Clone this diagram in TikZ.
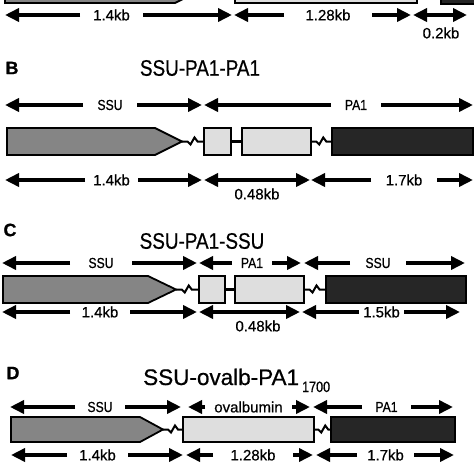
\documentclass[tikz,border=0pt]{standalone}
\usepackage{fontspec}
\usetikzlibrary{arrows.meta}
\newfontfamily\labfont[FakeBold=0.6]{Liberation Sans}
\newfontfamily\condfont[FakeStretch=0.84,FakeBold=0.6]{Liberation Sans}
\newcommand{\kbfont}{\labfont\fontsize{15}{15}\selectfont}
\newcommand{\genefont}{\condfont\fontsize{14.5}{14.5}\selectfont}
\newcommand{\titlefont}{\condfont\fontsize{22.5}{22.5}\selectfont}
\newcommand{\panelfont}{\labfont\bfseries\fontsize{18}{18}\selectfont}
\tikzset{
  dimline/.style={line width=4pt, -{Triangle[length=14pt,width=13pt]}},
  dimboth/.style={line width=4pt, {Triangle[length=14pt,width=13pt]}-{Triangle[length=14pt,width=13pt]}},
  gaplab/.style={inner xsep=0pt, inner ysep=0pt, outer sep=0pt, align=center},
  ssubox/.style={fill=black!48, draw=black, line width=1.8pt, line join=miter},
  litebox/.style={fill=black!13, draw=black, line width=1.8pt},
  darkbox/.style={fill=black!85, draw=black, line width=1.8pt},
  zigline/.style={line width=2pt, line join=miter},
  barline/.style={line width=3.5pt}
}
% name, y, left tip, gap left, gap right, right tip, text
\newcommand{\gaparrow}[7]{%
  \coordinate (#1L) at (#3,#2);
  \coordinate (#1R) at (#6,#2);
  \node[gaplab, minimum width={(#5-#4)*1pt}] (#1) at ({(#4+#5)/2},#2) {#7};
  \draw[dimline] (#1) -- (#1L);
  \draw[dimline] (#1) -- (#1R);
}
% x start, x end, y
\newcommand{\linkzig}[3]{%
  \draw[zigline] (#1,#3) -- ({#1+0.25*(#2-#1)},#3) -- ++(3,3) -- ++(4,-7) -- ++(3,4) -- (#2,#3);
}
% left, flat end, tip, top, bottom
\newcommand{\ssushape}[5]{%
  \filldraw[ssubox] (#1,#4) -- (#2,#4) -- (#3,{(#4+#5)/2}) -- (#2,#5) -- (#1,#5) -- cycle;
}
\begin{document}
\begin{tikzpicture}[x=1pt, y=-1pt]
  \useasboundingbox (0,0) rectangle (474,474);
  \clip (0,0) rectangle (474,474);
  \fill[white] (0,0) rectangle (474,474);

  % panel A (cut at the top)
  \ssushape{5}{175}{202}{-24}{3}
  \linkzig{202}{235}{-10.5}
  \filldraw[litebox] (235,-24) rectangle (417,3);
  \linkzig{417}{441}{-10.5}
  \filldraw[darkbox] (441,-24) rectangle (490,4);
  \gaparrow{a14}{15}{5}{80}{143}{232}{\kbfont 1.4kb}
  \gaparrow{a128}{15}{234}{284}{372}{411}{\kbfont 1.28kb}
  \coordinate (a02L) at (413,15);
  \coordinate (a02R) at (467,15);
  \draw[dimboth] (a02L) -- (a02R);
  \node[gaplab] (a02) at (441,33) {\kbfont 0.2kb};

  % panel B
  \node (labB) at (12,68) {\panelfont B};
  \node (titleB) at (200,68) {\titlefont SSU-PA1-PA1};
  \gaparrow{bssu}{105}{5}{83}{137}{202}{\genefont SSU}
  \gaparrow{bpa}{105}{204}{331}{381}{473}{\genefont PA1}
  \ssushape{7}{155}{182}{128}{155}
  \linkzig{182}{204}{141.5}
  \filldraw[litebox] (204,128) rectangle (231,155);
  \draw[barline] (231,141.5) -- (242,141.5);
  \filldraw[litebox] (242,128) rectangle (311,155);
  \linkzig{311}{332}{141.5}
  \filldraw[darkbox] (332,128) rectangle (473,155);
  \gaparrow{b14}{180}{5}{85}{138}{202}{\kbfont 1.4kb}
  \coordinate (b048L) at (204,180);
  \coordinate (b048R) at (310,180);
  \draw[dimboth] (b048L) -- (b048R);
  \node[gaplab] (b048) at (257,194) {\kbfont 0.48kb};
  \gaparrow{b17}{180}{311}{371}{437}{473}{\kbfont 1.7kb}

  % panel C
  \node (labC) at (10,230) {\panelfont C};
  \node (titleC) at (202,241) {\titlefont SSU-PA1-SSU};
  \gaparrow{cssu}{263}{2}{70}{132}{197}{\genefont SSU}
  \gaparrow{cpa}{263}{199}{232}{272}{301}{\genefont PA1}
  \gaparrow{cssub}{263}{304}{350}{406}{465}{\genefont SSU}
  \ssushape{3}{148}{176}{276}{303}
  \linkzig{176}{199}{289.5}
  \filldraw[litebox] (199,276) rectangle (225,303);
  \draw[barline] (225,289.5) -- (235,289.5);
  \filldraw[litebox] (235,276) rectangle (304,303);
  \linkzig{304}{326}{289.5}
  \filldraw[darkbox] (326,276) rectangle (466,303);
  \gaparrow{c14}{312}{2}{70}{130}{197}{\kbfont 1.4kb}
  \coordinate (c048L) at (199,312);
  \coordinate (c048R) at (300,312);
  \draw[dimboth] (c048L) -- (c048R);
  \node[gaplab] (c048) at (258,326) {\kbfont 0.48kb};
  \gaparrow{c15}{312}{302}{359}{404}{460}{\kbfont 1.5kb}

  % panel D
  \node (labD) at (13,373) {\panelfont D};
  \node[anchor=base west, inner sep=0pt] (titleD) at (143,385)
    {\labfont\fontsize{22.5}{22.5}\selectfont SSU-ovalb-PA1\hspace{3pt}\raisebox{-7pt}{\condfont\fontsize{15}{15}\selectfont 1700}};
  \gaparrow{dssu}{407}{10}{75}{125}{181}{\genefont SSU}
  \gaparrow{doval}{407}{188}{205}{292}{310}{\labfont\fontsize{15}{15}\selectfont ovalbumin}
  \gaparrow{dpa}{407}{313}{362}{411}{453}{\genefont PA1}
  \ssushape{11}{140}{163}{417}{442}
  \linkzig{163}{183}{429.5}
  \filldraw[litebox] (183,417) rectangle (314,442);
  \linkzig{314}{331}{429.5}
  \filldraw[darkbox] (331,417) rectangle (455,442);
  \gaparrow{d14}{455}{11}{67}{128}{183}{\kbfont 1.4kb}
  \gaparrow{d128}{455}{186}{213}{293}{313}{\kbfont 1.28kb}
  \gaparrow{d17}{455}{316}{357}{414}{454}{\kbfont 1.7kb}
\end{tikzpicture}
\end{document}
